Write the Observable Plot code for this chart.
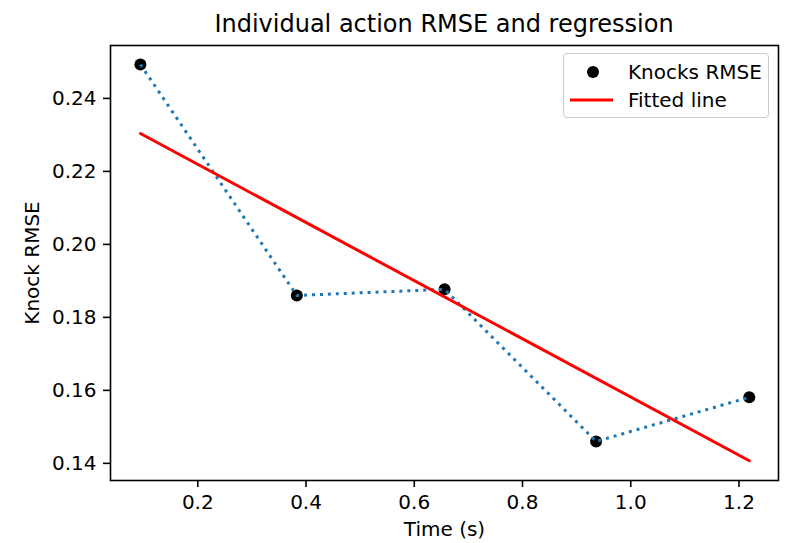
<!DOCTYPE html>
<html>
<head>
<meta charset="utf-8">
<script src="https://cdn.jsdelivr.net/npm/d3@7"></script>
<script src="https://cdn.jsdelivr.net/npm/@observablehq/plot@0.6"></script>
<style>
  html, body { margin: 0; padding: 0; background: #fff; }
  #wrap { position: relative; width: 805px; height: 543px; font-family: "DejaVu Sans", sans-serif; }
  #title {
    box-sizing: border-box; width: 805px; height: 36px;
    padding: 10px 27px 0 110px; text-align: center;
    font-size: 24px; line-height: 28px; color: #000; white-space: nowrap;
  }
  #legend {
    position: absolute; left: 563px; top: 53px; width: 206px; height: 65px;
    box-sizing: border-box; border: 1.6px solid #cccccc; border-radius: 4px;
    background: rgba(255,255,255,0.8); font-size: 20px; color: #000;
  }
  .row { position: absolute; left: 0; height: 28px; display: flex; align-items: center; }
  .row svg { width: 58px; height: 28px; }
  .row span { margin-left: 6px; white-space: nowrap; }
</style>
</head>
<body>
<div id="wrap">
  <div id="title">Individual action RMSE and regression</div>
  <div id="chart"></div>
  <div id="legend">
    <div class="row" style="top:4px"><svg><circle cx="29" cy="14" r="6" fill="#000"/></svg><span>Knocks RMSE</span></div>
    <div class="row" style="top:32px"><svg><line x1="6" x2="49" y1="14" y2="14" stroke="#ff0000" stroke-width="3"/></svg><span>Fitted line</span></div>
  </div>
</div>
<script>
// Measured action times (s) and the RMSE of each knock
const times = [0.094, 0.383, 0.656, 0.936, 1.219];
const rmse = [0.2493, 0.1860, 0.1877, 0.1460, 0.1581];

// Endpoints of the fitted regression line
const fitTimes = [0.094, 1.219];
const fitValues = [0.2304, 0.1407];

// Tick values
const xTicks = [0.2, 0.4, 0.6, 0.8, 1.0, 1.2];
const yTicks = [0.14, 0.16, 0.18, 0.20, 0.22, 0.24];

const points = times.map((t, i) => ({time: t, rmse: rmse[i]}));
const fit = fitTimes.map((t, i) => ({time: t, value: fitValues[i]}));

const chart = Plot.plot({
  width: 805,
  height: 507,
  marginTop: 9,
  marginBottom: 63,
  marginLeft: 110,
  marginRight: 27,
  style: {fontFamily: "DejaVu Sans, sans-serif", fontSize: "20px", color: "#000", background: "#fff"},
  x: {domain: [0.0387, 1.273], ticks: xTicks, tickFormat: d3.format(".1f")},
  y: {domain: [0.1353, 0.2545], ticks: yTicks, tickFormat: d3.format(".2f")},
  marks: [
    Plot.frame({stroke: "#000", strokeWidth: 1.6}),
    Plot.axisX({ticks: xTicks, tickFormat: d3.format(".1f"), tickSize: 7, tickPadding: 7,
      strokeWidth: 1.6, fontSize: 20, label: "Time (s)", labelAnchor: "center", labelArrow: "none", labelOffset: 55}),
    Plot.axisY({ticks: yTicks, tickFormat: d3.format(".2f"), tickSize: 7, tickPadding: 7,
      strokeWidth: 1.6, fontSize: 20, label: "Knock RMSE", labelAnchor: "center", labelArrow: "none", labelOffset: 86}),
    Plot.dot(points, {x: "time", y: "rmse", r: 6, fill: "#000", stroke: "none"}),
    Plot.line(points, {x: "time", y: "rmse", stroke: "#1f77b4", strokeWidth: 3,
      strokeDasharray: "3 4.95", strokeLinecap: "butt"}),
    Plot.line(fit, {x: "time", y: "value", stroke: "#ff0000", strokeWidth: 3})
  ]
});
document.getElementById("chart").appendChild(chart);
</script>
</body>
</html>
